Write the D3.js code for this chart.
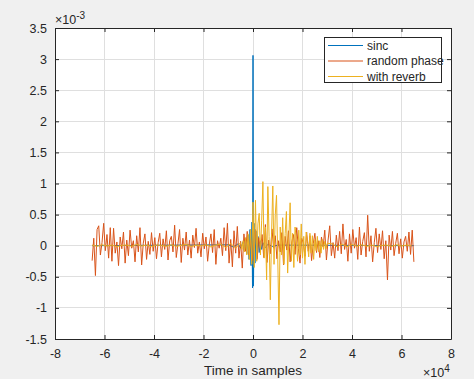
<!DOCTYPE html>
<html><head><meta charset="utf-8">
<script src="https://cdn.jsdelivr.net/npm/d3@7"></script>
<style>
html,body{margin:0;padding:0;background:#f0f0f0;}
svg{display:block;}
text{font-family:"Liberation Sans",Arial,Helvetica,sans-serif;fill:#262626;}
</style></head><body>
<svg id="c" width="474" height="379"></svg>
<script>
// ---- data (values in units of 1e-4, time in samples) ----
const xTicks = [-80000,-60000,-40000,-20000,0,20000,40000,60000,80000];
const xTickLabels = ["-8","-6","-4","-2","0","2","4","6","8"];
const yTicks = [-1.5,-1,-0.5,0,0.5,1,1.5,2,2.5,3,3.5];
const yTickLabels = ["-1.5","-1","-0.5","0","0.5","1","1.5","2","2.5","3","3.5"];
const seriesNames = ["sinc","random phase","with reverb"];
const seriesColors = ["#0072BD","#D95319","#EDB120"];

// sinc impulse (time, value x1e-4)
const sincT = [-65000,-10000,-8000,-6000,-5000,-4000,-3500,-3000,-2500,-2000,-1600,-1200,-800,-400,-200,0,200,400,800,1200,1600,2000,2500,3000,3500,4000,5000,6000,8000,10000,65000];
const sincV = [0,0.15,-0.2,0.3,-0.4,0.6,-0.8,1.0,-1.3,1.7,-2.2,2.6,-3.2,3.8,-6.8,30.6,-6.5,3.6,-2.8,2.4,-1.9,1.5,-1.1,0.8,-0.6,0.5,-0.35,0.25,-0.15,0.1,0];

// random phase signal: start, end, values x1e-4
const randStart = -65000;
const randEnd = 65000;
const randV = [
-2.4,1.2,-4.8,2.6,3.2,-1.5,0.5,3.6,-0.8,1.8,-2.0,2.9,-2.5,2.8,-1.2,0.6,-3.2,1.4,-0.5,2.2,-2.8,0.9,-1.6,2.5,-0.4,0.8,-2.6,1.6,-1.0,2.9,-3.1,0.4,1.9,-2.2,0.7,-1.4,2.1,-0.9,1.3,
-2.1,0.5,2.0,-1.8,1.1,-0.6,2.4,-2.3,0.8,1.5,-1.0,3.3,-1.9,0.3,2.6,-2.7,1.2,-0.7,2.2,-1.5,0.9,-2.0,1.7,-0.3,2.8,-1.2,0.6,-1.8,2.0,-0.5,1.4,-2.5,0.2,1.9,-1.1,2.6,-3.0,0.8,-0.4,
1.2,-1.6,2.9,-0.8,3.6,-2.8,1.0,-3.4,2.4,-1.2,3.1,-2.0,0.7,-3.6,1.9,-0.9,2.3,-1.5,1.1,-2.4,0.5,2.6,-2.2,1.3,-0.6,1.8,-1.9,3.4,-2.7,0.9,-1.3,2.7,-0.4,1.6,-2.1,0.8,-1.0,2.1,-3.1,
1.5,-0.7,2.4,-2.6,0.6,1.8,-1.4,2.9,-0.5,-2.8,1.2,0.4,-1.7,2.2,-0.9,1.6,-2.4,0.3,2.0,-1.1,0.8,-1.9,1.4,-0.2,2.5,-2.3,0.9,3.2,-1.6,0.5,-2.0,1.7,-0.8,2.3,-1.3,3.5,-0.6,1.0,-2.5,
1.9,-1.2,2.6,-0.4,1.3,-2.2,3.0,-1.5,0.7,2.1,-1.8,4.9,-0.9,1.6,-2.6,0.5,2.8,-1.1,1.9,-0.6,2.4,-2.1,0.8,-5.5,1.7,-0.7,2.3,-1.6,0.4,2.0,-1.3,1.1,-2.0,0.6,1.5,-0.9,2.2,-1.4,2.5,-2.6
];

// with reverb: three segments (start, step, values x1e-4)
const revHeadStart = -65000, revHeadStep = 2000;
const revHeadV = [0.1,-0.1,0.15,-0.05,0.1,-0.15,0.05,0.1,-0.1,0.2,-0.05,0.1,-0.15,0.1,0.05,-0.1,0.15,-0.1,0.05,0.2,-0.15,0.1,-0.05,0.15,-0.2,0.1,0.25,-0.3,0.35,-0.4,0.5];
const revMidStart = -4500, revMidStep = 500;
const revMidV = [-0.6,0.8,-1.0,1.3,-1.5,1.9,-2.2,2.6,-3.0,7.0,-3.5,7.3,-2.5,3.5,5.2,-1.5,4.0,10.3,-2.0,3.0,-5.5,9.5,1.5,-8.7,2.0,9.6,-3.0,5.0,8.1,-2.0,-12.7,3.0,-1.5,4.5,-3.0,2.0,5.5,-4.4,1.5,6.9,-2.5,2.0,-3.5,3.0,1.0,-2.5,2.5,-1.5,3.5,-2.0,1.5,-3.0,2.2,0.5,-1.8,2.0,-1.2,1.6,-2.2,1.0,-0.8,1.5,-1.0,0.8,-1.2,1.0,-0.6,0.7,-0.5,0.4];
const revTailStart = 32000, revTailStep = 2000;
const revTailV = [0.3,-0.2,0.25,-0.15,0.2,-0.1,0.15,-0.1,0.1,-0.15,0.05,0.1,-0.1,0.15,-0.05,0.1,0];

// ---- build point lists ----
const sincData = sincT.map((t,i)=>[t, sincV[i]*1e-4]);
const randStep = (randEnd-randStart)/(randV.length-1);
const randData = randV.map((v,i)=>[randStart+i*randStep, v*1e-4]);
const revData = [].concat(
  revHeadV.map((v,i)=>[revHeadStart+i*revHeadStep, v*1e-4]),
  revMidV.map((v,i)=>[revMidStart+i*revMidStep, v*1e-4]),
  revTailV.map((v,i)=>[revTailStart+i*revTailStep, v*1e-4])
);
const allSeries = [sincData, randData, revData];

// ---- layout ----
const L=55, R=451, T=28, B=339;
const svg = d3.select("#c");
const x = d3.scaleLinear().domain([-80000,80000]).range([L,R]);
const y = d3.scaleLinear().domain([-1.5e-3,3.5e-3]).range([B,T]);

svg.append("rect").attr("x",L).attr("y",T).attr("width",R-L).attr("height",B-T).attr("fill","#fff");

// grid
const g = svg.append("g");
g.selectAll(".gx").data(xTicks.slice(1,-1)).enter().append("line")
  .attr("x1",d=>x(d)).attr("x2",d=>x(d)).attr("y1",T).attr("y2",B)
  .attr("stroke","#dfdfdf").attr("stroke-width",1).attr("shape-rendering","crispEdges");
g.selectAll(".gy").data(yTicks.slice(1,-1)).enter().append("line")
  .attr("y1",d=>y(d*1e-3)).attr("y2",d=>y(d*1e-3)).attr("x1",L).attr("x2",R)
  .attr("stroke","#dfdfdf").attr("stroke-width",1).attr("shape-rendering","crispEdges");

// lines
const line = d3.line().x(d=>x(d[0])).y(d=>y(d[1]));
svg.append("clipPath").attr("id","pc").append("rect").attr("x",L).attr("y",T).attr("width",R-L).attr("height",B-T);
const lg = svg.append("g").attr("clip-path","url(#pc)");
allSeries.forEach((s,i)=>{
  lg.append("path").datum(s).attr("d",line).attr("fill","none")
    .attr("stroke",seriesColors[i]).attr("stroke-width",1).attr("stroke-linejoin","round");
});

// axes (ticks inside)
const axB = d3.axisBottom(x).tickValues(xTicks).tickFormat((d,i)=>xTickLabels[i]).tickSizeInner(-4).tickSizeOuter(0).tickPadding(10);
const axT = d3.axisTop(x).tickValues(xTicks).tickFormat("").tickSizeInner(-4).tickSizeOuter(0);
const axLft = d3.axisLeft(y).tickValues(yTicks.map(v=>v*1e-3)).tickFormat((d,i)=>yTickLabels[i]).tickSizeInner(-4).tickSizeOuter(0).tickPadding(8);
const axRt = d3.axisRight(y).tickValues(yTicks.map(v=>v*1e-3)).tickFormat("").tickSizeInner(-4).tickSizeOuter(0);
function style(sel){
  sel.select(".domain").attr("stroke","#262626");
  sel.selectAll(".tick line").attr("stroke","#262626");
  sel.selectAll("text").attr("font-size","12.5px").attr("fill","#262626").attr("font-family","Liberation Sans, Arial, sans-serif");
}
svg.append("g").attr("transform",`translate(0,${B})`).call(axB).call(style);
svg.append("g").attr("transform",`translate(0,${T})`).call(axT).call(style);
svg.append("g").attr("transform",`translate(${L},0)`).call(axLft).call(style);
svg.append("g").attr("transform",`translate(${R},0)`).call(axRt).call(style);

// exponent labels
const e1 = svg.append("text").attr("x",L).attr("y",24).attr("font-size","12.5px");
e1.append("tspan").text("×10");
e1.append("tspan").attr("dy",-5).attr("font-size","10px").text("-3");
const e2 = svg.append("text").attr("x",423).attr("y",377).attr("font-size","12.5px");
e2.append("tspan").text("×10");
e2.append("tspan").attr("dy",-5).attr("font-size","10px").text("4");

// x label
svg.append("text").attr("x",(L+R)/2).attr("y",375).attr("text-anchor","middle").attr("font-size","13.5px").text("Time in samples");

// legend
const lgX=324, lgY=37, lgW=117, lgH=45;
const leg = svg.append("g");
leg.append("rect").attr("x",lgX+0.5).attr("y",lgY+0.5).attr("width",lgW).attr("height",lgH).attr("fill","#fff").attr("stroke","#262626").attr("stroke-width",1);
seriesNames.forEach((n,i)=>{
  const cy = 45.5 + i*15.5;
  leg.append("line").attr("x1",328).attr("x2",363).attr("y1",cy).attr("y2",cy).attr("stroke",seriesColors[i]).attr("stroke-width",1);
  leg.append("text").attr("x",367).attr("y",cy+4.3).attr("font-size","12px").text(n);
});
</script>
</body></html>
